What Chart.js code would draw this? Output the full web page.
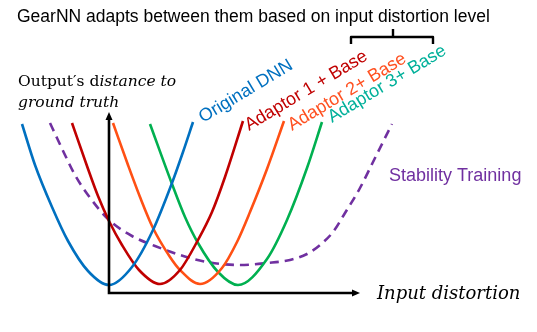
<!DOCTYPE html>
<html>
<head>
<meta charset="utf-8">
<script src="https://cdn.jsdelivr.net/npm/chart.js@4"></script>
<style>
  html, body { margin: 0; padding: 0; background: #fff; }
  #wrap { width: 537px; height: 332px; position: relative; }
</style>
</head>
<body>
<div id="wrap"><canvas id="grafico"></canvas></div>
<script>
// Curvas (distorção de entrada, distância à verdade) lidas em unidades do eixo
var originalDNN = [[-8.7,16.9],[-7.4,12.8],[-5.7,8.6],[-4.1,5.2],[-2.1,2.2],[0.0,0.8],[2.3,2.6],[4.4,6.3],[6.3,11.0],[7.4,14.1],[8.4,17.1]];
var adaptor1 = [[-3.7,17.0],[-2.2,12.7],[-1.1,9.7],[0.0,7.2],[1.3,4.8],[3.0,2.3],[5.1,0.9],[7.1,2.3],[8.9,5.3],[10.3,8.1],[11.6,11.6],[13.4,17.2]];
var adaptor2 = [[0.4,17.0],[1.9,12.8],[3.1,9.6],[4.4,6.5],[6.1,3.6],[7.1,2.3],[9.1,0.9],[11.3,2.5],[12.8,5.1],[14.1,8.1],[15.8,12.4],[17.5,17.2]];
var adaptor3 = [[4.1,16.9],[6.3,10.9],[7.6,7.6],[8.9,5.0],[10.9,2.1],[12.9,0.8],[15.8,3.4],[17.8,7.3],[19.8,12.5],[21.3,17.1]];
var stability = [[-5.9,17.0],[-5.2,15.5],[-4.4,13.8],[-3.4,11.8],[-2.1,9.8],[0.0,7.3],[2.3,5.7],[4.6,4.7],[7.1,3.8],[9.8,3.1],[13.1,2.8],[15.8,3.0],[18.1,3.3],[19.8,3.9],[21.1,4.8],[22.4,6.1],[23.6,8.0],[25.1,10.5],[26.6,13.5],[28.3,16.9]];

// Extensão das setas dos eixos
var xAxisEnd = 25.1;
var yAxisEnd = 18.1;

function toPoints(arr) {
    return arr.map(function(p) { return { x: p[0], y: p[1] }; });
}

function serie(dados, cor, tracejado) {
    return {
        data: toPoints(dados),
        borderColor: cor,
        borderWidth: 2.6,
        borderDash: tracejado ? [9, 6] : [],
        pointRadius: 0,
        fill: false,
        cubicInterpolationMode: 'monotone'
    };
}

// Plugin para eixos com setas e textos
var anotacoes = {
    id: 'anotacoes',
    afterDatasetsDraw: function(chart) {
        var ctx = chart.ctx;
        var sx = chart.scales.x, sy = chart.scales.y;
        var ox = sx.getPixelForValue(0), oy = sy.getPixelForValue(0);
        var xEnd = sx.getPixelForValue(xAxisEnd), yEnd = sy.getPixelForValue(yAxisEnd);

        ctx.save();
        ctx.strokeStyle = '#000';
        ctx.fillStyle = '#000';
        ctx.lineWidth = 2.6;
        ctx.beginPath();
        ctx.moveTo(ox, yEnd + 6);
        ctx.lineTo(ox, oy);
        ctx.lineTo(xEnd - 6, oy);
        ctx.stroke();
        // pontas das setas
        ctx.beginPath();
        ctx.moveTo(ox, yEnd);
        ctx.lineTo(ox - 3.5, yEnd + 8);
        ctx.lineTo(ox + 3.5, yEnd + 8);
        ctx.closePath();
        ctx.fill();
        ctx.beginPath();
        ctx.moveTo(xEnd, oy);
        ctx.lineTo(xEnd - 8, oy - 3.5);
        ctx.lineTo(xEnd - 8, oy + 3.5);
        ctx.closePath();
        ctx.fill();

        // chave sobre os adaptadores
        ctx.lineWidth = 2.4;
        ctx.lineJoin = 'round';
        ctx.beginPath();
        ctx.moveTo(351, 44);
        ctx.lineTo(351, 37);
        ctx.lineTo(433, 37);
        ctx.lineTo(433, 44);
        ctx.moveTo(393, 37);
        ctx.lineTo(393, 29);
        ctx.stroke();

        ctx.textBaseline = 'alphabetic';
        ctx.textAlign = 'left';
        ctx.font = '17.5px "Liberation Sans", Arial, sans-serif';
        ctx.fillText('GearNN adapts between them based on input distortion level', 17, 21.5);

        // rótulo do eixo y
        ctx.font = '15.5px "DejaVu Serif", serif';
        var w = ctx.measureText('Output\u2032s d').width;
        ctx.fillText('Output\u2032s d', 18, 86);
        ctx.font = 'italic 15.5px "DejaVu Serif", serif';
        ctx.fillText('istance to', 18 + w, 86);
        ctx.fillText('ground truth', 18, 107);

        // rótulo do eixo x
        ctx.font = 'italic 18px "DejaVu Serif", serif';
        ctx.fillText('Input distortion', 377, 299);

        ctx.font = '18px "Liberation Sans", Arial, sans-serif';
        ctx.fillStyle = '#7030A0';
        ctx.fillText('Stability Training', 389, 181);

        var rotulos = [
            ['Original DNN', '#0070C0', 203, 123],
            ['Adaptor 1 + Base', '#C00000', 249, 131],
            ['Adaptor 2+ Base', '#FF5020', 292, 131],
            ['Adaptor 3+ Base', '#00B09A', 332, 123]
        ];
        rotulos.forEach(function(r) {
            ctx.save();
            ctx.translate(r[2], r[3]);
            ctx.rotate(-31 * Math.PI / 180);
            ctx.fillStyle = r[1];
            ctx.fillText(r[0], 0, 0);
            ctx.restore();
        });
        ctx.restore();
    }
};

document.addEventListener('DOMContentLoaded', function() {
    var ctx = document.getElementById('grafico').getContext('2d');
    new Chart(ctx, {
        type: 'line',
        data: {
            datasets: [
                serie(originalDNN, '#0070C0', false),
                serie(adaptor1, '#C00000', false),
                serie(adaptor2, '#FF5014', false),
                serie(adaptor3, '#00B050', false),
                serie(stability, '#7030A0', true)
            ]
        },
        options: {
            responsive: true,
            maintainAspectRatio: false,
            animation: false,
            layout: { padding: 0 },
            clip: false,
            plugins: {
                legend: { display: false },
                tooltip: { enabled: false }
            },
            scales: {
                x: { type: 'linear', min: -10.9, max: 42.8, display: false },
                y: { type: 'linear', min: -3.9, max: 29.3, display: false }
            }
        },
        plugins: [anotacoes]
    });
});
</script>
</body>
</html>
